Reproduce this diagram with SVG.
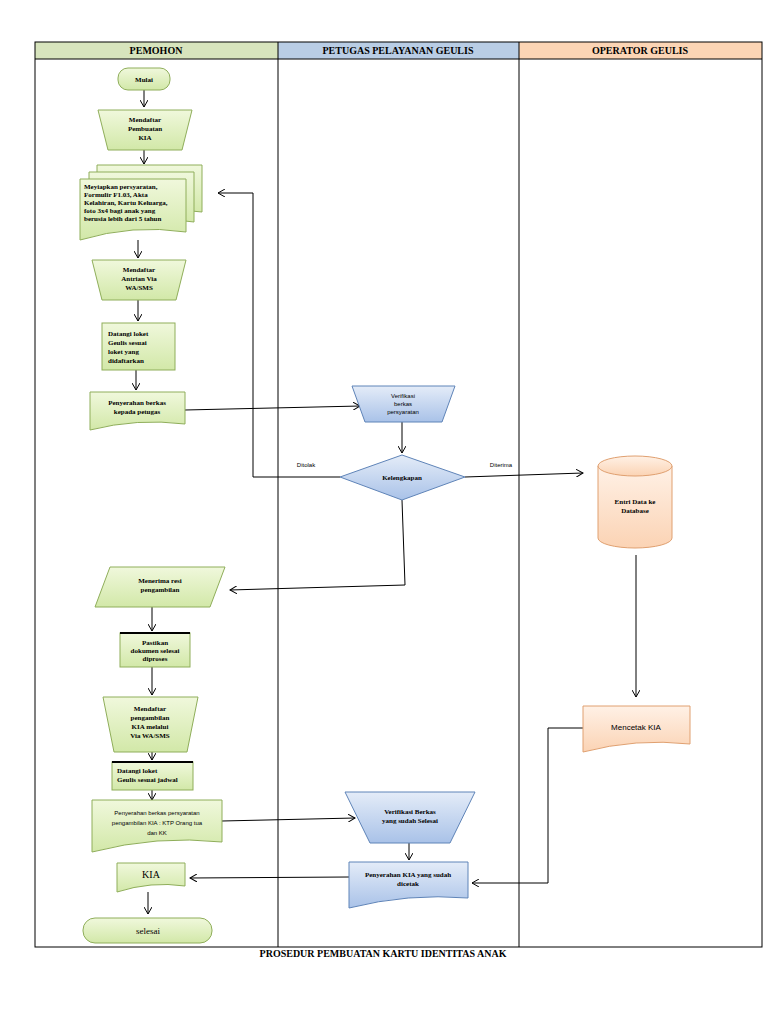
<svg xmlns="http://www.w3.org/2000/svg" width="768" height="1024" viewBox="0 0 768 1024">
<defs>
<marker id="ah" markerWidth="8" markerHeight="8" refX="7" refY="4" orient="auto" markerUnits="userSpaceOnUse"><path d="M0,0 L7,4 L0,8" fill="none" stroke="#000" stroke-width="1"/></marker>
<linearGradient id="g" x1="0" y1="0" x2="0" y2="1"><stop offset="0" stop-color="#f0f8dc"/><stop offset="1" stop-color="#d2e8a8"/></linearGradient>
<linearGradient id="b" x1="0" y1="0" x2="0" y2="1"><stop offset="0" stop-color="#e4ecf8"/><stop offset="1" stop-color="#a9c2e8"/></linearGradient>
<linearGradient id="o" x1="0" y1="0" x2="0" y2="1"><stop offset="0" stop-color="#fff1e6"/><stop offset="1" stop-color="#fbd3b4"/></linearGradient>
</defs>
<style>
.gn{fill:url(#g);stroke:#8fae5a;stroke-width:1}
.bl{fill:url(#b);stroke:#5f84b8;stroke-width:1}
.or{fill:url(#o);stroke:#e0a070;stroke-width:1}
.t{font-family:"Liberation Serif",serif;font-size:7px;font-weight:bold;text-anchor:middle;fill:#000}
.l{font-family:"Liberation Serif",serif;font-size:7px;font-weight:bold;text-anchor:start;fill:#000}
.s{font-family:"Liberation Sans",sans-serif;font-size:6px;text-anchor:middle;fill:#000}
.h{font-family:"Liberation Serif",serif;font-size:10px;font-weight:bold;text-anchor:middle}
.c{fill:none;stroke:#000;stroke-width:1}
</style>
<rect width="768" height="1024" fill="#fff"/>
<g id="lanes">
<rect x="35" y="42" width="243" height="17" fill="#d7e4bd"/>
<rect x="278" y="42" width="241" height="17" fill="#b9cde5"/>
<rect x="519" y="42" width="243" height="17" fill="#fcd5b5"/>
<rect x="35" y="42" width="727" height="905" fill="none" stroke="#000"/>
<line x1="35" y1="59" x2="762" y2="59" stroke="#000"/>
<line x1="278" y1="42" x2="278" y2="947" stroke="#000"/>
<line x1="519" y1="42" x2="519" y2="947" stroke="#000"/>
<text class="h" x="156" y="54">PEMOHON</text>
<text class="h" x="398" y="54">PETUGAS PELAYANAN GEULIS</text>
<text class="h" x="640" y="54">OPERATOR GEULIS</text>
<text class="h" x="383" y="957">PROSEDUR PEMBUATAN KARTU IDENTITAS ANAK</text>
</g>
<g id="connectors">
<path class="c" marker-end="url(#ah)" d="M144,90 V107"/>
<path class="c" marker-end="url(#ah)" d="M144,150 V164"/>
<path class="c" marker-end="url(#ah)" d="M138,240 V258"/>
<path class="c" marker-end="url(#ah)" d="M138,300 V321"/>
<path class="c" marker-end="url(#ah)" d="M136,370 V390"/>
<path class="c" marker-end="url(#ah)" d="M185,410 L360,406"/>
<path class="c" marker-end="url(#ah)" d="M402,422 V453"/>
<path class="c" marker-end="url(#ah)" d="M340,477 H253 V193 H218"/>
<path class="c" marker-end="url(#ah)" d="M465,477 L583,473"/>
<path class="c" marker-end="url(#ah)" d="M402,500 L405,585 L230,590"/>
<path class="c" marker-end="url(#ah)" d="M152,607 V631"/>
<path class="c" marker-end="url(#ah)" d="M152,667 V695"/>
<path class="c" marker-end="url(#ah)" d="M152,752 V760"/>
<path class="c" marker-end="url(#ah)" d="M152,790 V800"/>
<path class="c" marker-end="url(#ah)" d="M222,821 L355,818"/>
<path class="c" marker-end="url(#ah)" d="M148,892 V914"/>
<path class="c" marker-end="url(#ah)" d="M636,555 V697"/>
<path class="c" marker-end="url(#ah)" d="M583,728 H548 V883 H472"/>
<path class="c" marker-end="url(#ah)" d="M409,843 V860"/>
<path class="c" marker-end="url(#ah)" d="M349,877 L190,878"/>
<text class="s" x="306" y="467">Ditolak</text>
<text class="s" x="501" y="467">Diterima</text>
</g>
<g id="mulai"><rect class="gn" x="118" y="68" width="52" height="22" rx="10"/><text class="t" x="144" y="82">Mulai</text></g>
<g id="daftar1"><path class="gn" d="M98,110 H192 L182,150 H108 Z"/><text class="t" x="145" y="122">Mendaftar</text><text class="t" x="145" y="131">Pembuatan</text><text class="t" x="145" y="140">KIA</text></g>
<g id="syarat">
<path class="gn" d="M97,165 H202 V212 Q150,205 97,214 Z"/>
<path class="gn" d="M89,172 H194 V222 Q142,214 89,224 Z"/>
<path class="gn" d="M80,179 H186 V232 Q133,224 80,240 Z"/>
<text class="l" x="84" y="189">Meyiapkan persyaratan,</text><text class="l" x="84" y="197">Formulir F1.03, Akta</text><text class="l" x="84" y="205">Kelahiran, Kartu Keluarga,</text><text class="l" x="84" y="213">foto 3x4 bagi anak yang</text><text class="l" x="84" y="221">berusia lebih dari 5 tahun</text>
</g>
<g id="antrian"><path class="gn" d="M92,260 H186 L176,300 H102 Z"/><text class="t" x="139" y="272">Mendaftar</text><text class="t" x="139" y="281">Antrian Via</text><text class="t" x="139" y="290">WA/SMS</text></g>
<g id="loket1"><rect class="gn" x="102" y="323" width="73" height="47"/><text class="l" x="108" y="336">Datangi loket</text><text class="l" x="108" y="345">Geulis sesuai</text><text class="l" x="108" y="354">loket yang</text><text class="l" x="108" y="363">didaftarkan</text></g>
<g id="serah1"><path class="gn" d="M90,392 H185 V424 Q137,418 90,430 Z"/><text class="t" x="137" y="405">Penyerahan berkas</text><text class="t" x="137" y="414">kepada petugas</text></g>
<g id="verif1"><path class="bl" d="M352,386 H455 L442,422 H365 Z"/><text class="s" x="403" y="398">Verifikasi</text><text class="s" x="403" y="406">berkas</text><text class="s" x="403" y="414">persyaratan</text></g>
<g id="lengkap"><path class="bl" d="M402,455 L465,477 L402,500 L340,477 Z"/><text class="t" x="402" y="480">Kelengkapan</text></g>
<g id="db"><path class="or" d="M598,466 V538 A37,10 0 0 0 672,538 V466"/><ellipse class="or" cx="635" cy="466" rx="37" ry="10"/><text class="t" x="635" y="504">Entri Data ke</text><text class="t" x="635" y="513">Database</text></g>
<g id="resi"><path class="gn" d="M110,567 H225 L210,607 H95 Z"/><text class="t" x="160" y="583">Menerima resi</text><text class="t" x="160" y="592">pengambilan</text></g>
<g id="pastikan"><rect class="gn" x="120" y="633" width="70" height="34"/><line x1="120" y1="633" x2="190" y2="633" stroke="#000" stroke-width="2"/><text class="t" x="155" y="645">Pastikan</text><text class="t" x="155" y="653">dokumen selesai</text><text class="t" x="155" y="661">diproses</text></g>
<g id="daftar2"><path class="gn" d="M103,697 H198 L187,752 H114 Z"/><text class="t" x="150" y="711">Mendaftar</text><text class="t" x="150" y="720">pengambilan</text><text class="t" x="150" y="729">KIA melalui</text><text class="t" x="150" y="738">Via WA/SMS</text></g>
<g id="loket2"><rect class="gn" x="112" y="762" width="81" height="28"/><line x1="112" y1="762" x2="193" y2="762" stroke="#000" stroke-width="2"/><text class="l" x="117" y="773">Datangi loket</text><text class="l" x="117" y="782">Geulis sesuai jadwal</text></g>
<g id="serah2"><path class="gn" d="M92,800 H222 V842 Q157,835 92,852 Z"/><text class="s" x="157" y="815">Penyerahan berkas persyaratan</text><text class="s" x="157" y="825">pengambilan KIA : KTP Orang tua</text><text class="s" x="157" y="835">dan KK</text></g>
<g id="kia"><path class="gn" d="M117,863 H185 V886 Q151,881 117,892 Z"/><text x="151" y="878" style="font-family:'Liberation Serif',serif;font-size:10px;text-anchor:middle">KIA</text></g>
<g id="selesai"><rect class="gn" x="83" y="918" width="129" height="25" rx="12"/><text x="148" y="934" style="font-family:'Liberation Serif',serif;font-size:9px;text-anchor:middle">selesai</text></g>
<g id="cetak"><path class="or" d="M583,706 H690 V744 Q636,738 583,752 Z"/><text x="636" y="730" style="font-family:'Liberation Sans',sans-serif;font-size:8px;text-anchor:middle">Mencetak KIA</text></g>
<g id="verif2"><path class="bl" d="M345,792 H475 L450,843 H370 Z"/><text class="t" x="410" y="814">Verifikasi Berkas</text><text class="t" x="410" y="823">yang sudah Selesai</text></g>
<g id="serahkia"><path class="bl" d="M349,862 H468 V898 Q408,893 349,908 Z"/><text class="t" x="408" y="877">Penyerahan KIA yang sudah</text><text class="t" x="408" y="886">dicetak</text></g>
</svg>
